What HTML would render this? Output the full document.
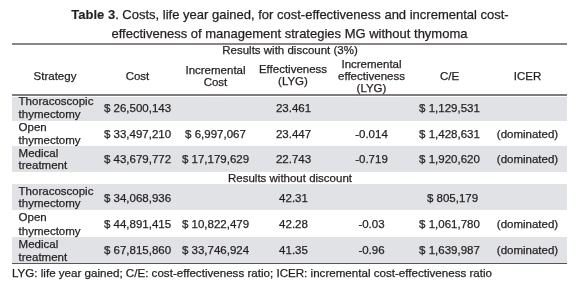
<!DOCTYPE html>
<html><head><meta charset="utf-8"><style>
html,body{margin:0;padding:0;background:#fff;}
body{width:580px;height:287px;position:relative;overflow:hidden;font-family:"Liberation Sans",sans-serif;color:#231f20;}
.t{position:absolute;white-space:nowrap;line-height:1;-webkit-text-stroke:0.25px #231f20;}
#w{position:absolute;left:0;top:0;width:580px;height:287px;will-change:transform;}
.b{position:absolute;left:12px;width:555px;background:#e1e2e5;}
.r{position:absolute;left:12px;width:555px;}
b{-webkit-text-stroke:0.12px #231f20;}
</style></head><body><div id="w">
<div class="b" style="top:97px;height:24.00px"></div>
<div class="b" style="top:146px;height:26.00px"></div>
<div class="b" style="top:184px;height:26.00px"></div>
<div class="b" style="top:237px;height:26.00px"></div>
<div class="r" style="top:43px;height:2px;background:#8a8585"></div>
<div class="r" style="top:94px;height:2px;background:#827c7b"></div>
<div class="r" style="top:263px;height:1px;background:#5a5454"></div>
<div class="t" style="left:-10px;width:600px;text-align:center;top:8px;font-size:13px;"><b>Table 3</b>. Costs, life year gained, for cost-effectiveness and incremental cost-</div>
<div class="t" style="left:-10.5px;width:600px;text-align:center;top:27px;font-size:13px;">effectiveness of management strategies MG without thymoma</div>
<div class="t" style="left:-10px;width:600px;text-align:center;top:45px;font-size:11.5px;">Results with discount (3%)</div>
<div class="t" style="left:-245px;width:600px;text-align:center;top:71px;font-size:11.5px;">Strategy</div>
<div class="t" style="left:-162.5px;width:600px;text-align:center;top:71px;font-size:11.5px;">Cost</div>
<div class="t" style="left:-84.5px;width:600px;text-align:center;top:65px;font-size:11.5px;">Incremental</div>
<div class="t" style="left:-84.5px;width:600px;text-align:center;top:77px;font-size:11.5px;">Cost</div>
<div class="t" style="left:-7.0px;width:600px;text-align:center;top:64px;font-size:11.5px;">Effectiveness</div>
<div class="t" style="left:-7.0px;width:600px;text-align:center;top:76px;font-size:11.5px;">(LYG)</div>
<div class="t" style="left:71.5px;width:600px;text-align:center;top:59px;font-size:11.5px;">Incremental</div>
<div class="t" style="left:71.5px;width:600px;text-align:center;top:71px;font-size:11.5px;">effectiveness</div>
<div class="t" style="left:71.5px;width:600px;text-align:center;top:83px;font-size:11.5px;">(LYG)</div>
<div class="t" style="left:149.5px;width:600px;text-align:center;top:71px;font-size:11.5px;">C/E</div>
<div class="t" style="left:227.5px;width:600px;text-align:center;top:71px;font-size:11.5px;">ICER</div>
<div class="t" style="left:18.6px;top:96px;font-size:11.5px;">Thoracoscopic</div>
<div class="t" style="left:18.6px;top:109px;font-size:11.5px;">thymectomy</div>
<div class="t" style="left:-162.5px;width:600px;text-align:center;top:103px;font-size:11.5px;">$ 26,500,143</div>
<div class="t" style="left:-6.5px;width:600px;text-align:center;top:103px;font-size:11.5px;">23.461</div>
<div class="t" style="left:149.5px;width:600px;text-align:center;top:103px;font-size:11.5px;">$ 1,129,531</div>
<div class="t" style="left:18.6px;top:122px;font-size:11.5px;">Open</div>
<div class="t" style="left:18.6px;top:135px;font-size:11.5px;">thymectomy</div>
<div class="t" style="left:-162.5px;width:600px;text-align:center;top:129px;font-size:11.5px;">$ 33,497,210</div>
<div class="t" style="left:-84.5px;width:600px;text-align:center;top:129px;font-size:11.5px;">$ 6,997,067</div>
<div class="t" style="left:-6.5px;width:600px;text-align:center;top:129px;font-size:11.5px;">23.447</div>
<div class="t" style="left:71.5px;width:600px;text-align:center;top:129px;font-size:11.5px;">-0.014</div>
<div class="t" style="left:149.5px;width:600px;text-align:center;top:129px;font-size:11.5px;">$ 1,428,631</div>
<div class="t" style="left:227.5px;width:600px;text-align:center;top:129px;font-size:11.5px;">(dominated)</div>
<div class="t" style="left:18.6px;top:148px;font-size:11.5px;">Medical</div>
<div class="t" style="left:18.6px;top:160px;font-size:11.5px;">treatment</div>
<div class="t" style="left:-162.5px;width:600px;text-align:center;top:154px;font-size:11.5px;">$ 43,679,772</div>
<div class="t" style="left:-84.5px;width:600px;text-align:center;top:154px;font-size:11.5px;">$ 17,179,629</div>
<div class="t" style="left:-6.5px;width:600px;text-align:center;top:154px;font-size:11.5px;">22.743</div>
<div class="t" style="left:71.5px;width:600px;text-align:center;top:154px;font-size:11.5px;">-0.719</div>
<div class="t" style="left:149.5px;width:600px;text-align:center;top:154px;font-size:11.5px;">$ 1,920,620</div>
<div class="t" style="left:227.5px;width:600px;text-align:center;top:154px;font-size:11.5px;">(dominated)</div>
<div class="t" style="left:-10px;width:600px;text-align:center;top:173px;font-size:11.5px;">Results without discount</div>
<div class="t" style="left:18.6px;top:186px;font-size:11.5px;">Thoracoscopic</div>
<div class="t" style="left:18.6px;top:198px;font-size:11.5px;">thymectomy</div>
<div class="t" style="left:-162.5px;width:600px;text-align:center;top:193px;font-size:11.5px;">$ 34,068,936</div>
<div class="t" style="left:-6.5px;width:600px;text-align:center;top:193px;font-size:11.5px;">42.31</div>
<div class="t" style="left:152.5px;width:600px;text-align:center;top:193px;font-size:11.5px;">$ 805,179</div>
<div class="t" style="left:18.6px;top:212px;font-size:11.5px;">Open</div>
<div class="t" style="left:18.6px;top:226px;font-size:11.5px;">thymectomy</div>
<div class="t" style="left:-162.5px;width:600px;text-align:center;top:219px;font-size:11.5px;">$ 44,891,415</div>
<div class="t" style="left:-84.5px;width:600px;text-align:center;top:219px;font-size:11.5px;">$ 10,822,479</div>
<div class="t" style="left:-6.5px;width:600px;text-align:center;top:219px;font-size:11.5px;">42.28</div>
<div class="t" style="left:71.5px;width:600px;text-align:center;top:219px;font-size:11.5px;">-0.03</div>
<div class="t" style="left:149.5px;width:600px;text-align:center;top:219px;font-size:11.5px;">$ 1,061,780</div>
<div class="t" style="left:227.5px;width:600px;text-align:center;top:219px;font-size:11.5px;">(dominated)</div>
<div class="t" style="left:18.6px;top:239px;font-size:11.5px;">Medical</div>
<div class="t" style="left:18.6px;top:252px;font-size:11.5px;">treatment</div>
<div class="t" style="left:-162.5px;width:600px;text-align:center;top:245px;font-size:11.5px;">$ 67,815,860</div>
<div class="t" style="left:-84.5px;width:600px;text-align:center;top:245px;font-size:11.5px;">$ 33,746,924</div>
<div class="t" style="left:-6.5px;width:600px;text-align:center;top:245px;font-size:11.5px;">41.35</div>
<div class="t" style="left:71.5px;width:600px;text-align:center;top:245px;font-size:11.5px;">-0.96</div>
<div class="t" style="left:149.5px;width:600px;text-align:center;top:245px;font-size:11.5px;">$ 1,639,987</div>
<div class="t" style="left:227.5px;width:600px;text-align:center;top:245px;font-size:11.5px;">(dominated)</div>
<div class="t" style="left:12px;top:267px;font-size:11.6px;">LYG: life year gained; C/E: cost-effectiveness ratio; ICER: incremental cost-effectiveness ratio</div>
</div></body></html>
